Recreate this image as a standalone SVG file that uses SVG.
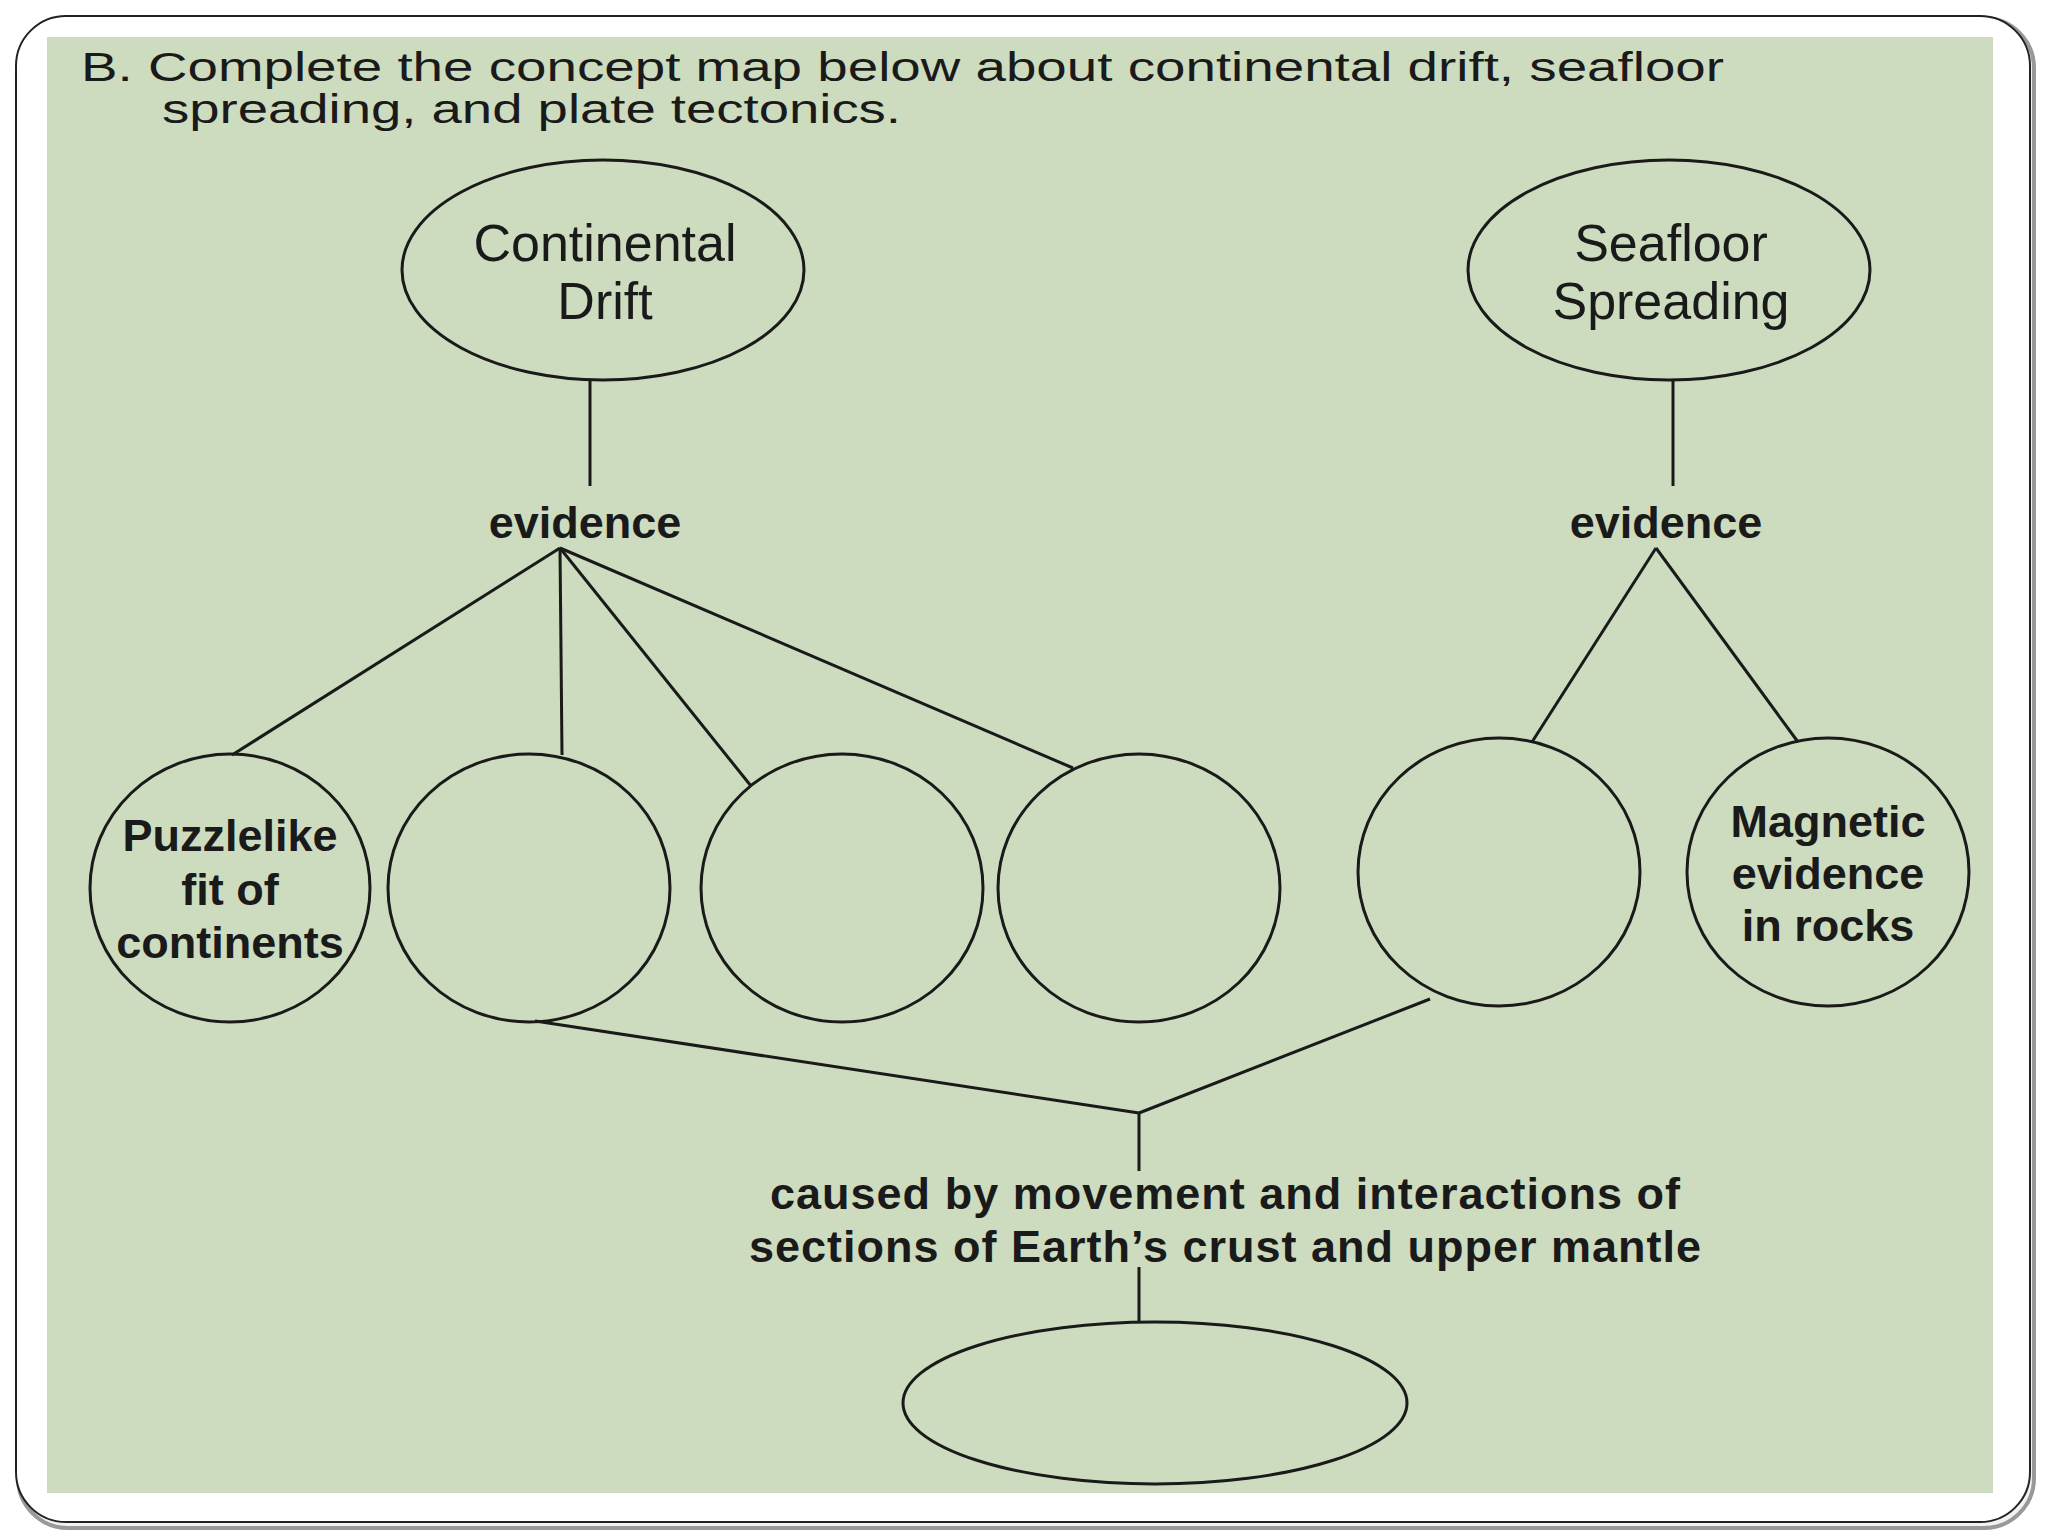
<svg xmlns="http://www.w3.org/2000/svg" width="2048" height="1536" viewBox="0 0 2048 1536">
<defs><style>
.n{fill:none;stroke:#1a1a1a;stroke-width:3}
.t{font-family:"Liberation Sans",Arial,sans-serif;fill:#1a1a1a;text-anchor:middle}
.b{font-weight:bold;font-size:45px}
.h{font-size:52px}
</style></defs>
<rect x="0" y="0" width="2048" height="1536" fill="#ffffff"/>
<rect x="18" y="18" width="2016" height="1510" rx="50" fill="#f2f2f2" stroke="#999" stroke-width="4"/>
<rect x="16" y="16" width="2014" height="1506" rx="50" fill="#ffffff" stroke="#222" stroke-width="2"/>
<rect x="47" y="37" width="1946" height="1456" fill="#cddcbf"/>
<g id="title" font-family="Liberation Sans,Arial,sans-serif" font-size="40" fill="#1a1a1a">
<text x="81" y="81" textLength="1643" lengthAdjust="spacingAndGlyphs">B. Complete the concept map below about continental drift, seafloor</text>
<text x="162" y="123" textLength="739" lengthAdjust="spacingAndGlyphs">spreading, and plate tectonics.</text>
</g>
<g id="connectors" class="n">
<line x1="590" y1="381" x2="590" y2="486"/>
<line x1="1673" y1="381" x2="1673" y2="486"/>
<line x1="560" y1="548" x2="232" y2="755"/>
<line x1="560" y1="548" x2="562" y2="755"/>
<line x1="560" y1="548" x2="751" y2="786"/>
<line x1="560" y1="548" x2="1073" y2="768"/>
<line x1="1656" y1="548" x2="1532" y2="742"/>
<line x1="1656" y1="548" x2="1798" y2="742"/>
<line x1="535" y1="1021" x2="1139" y2="1113"/>
<line x1="1430" y1="999" x2="1139" y2="1113"/>
<line x1="1139" y1="1113" x2="1139" y2="1171"/>
<line x1="1139" y1="1267" x2="1139" y2="1322"/>
</g>
<g id="continental-drift"><ellipse class="n" cx="603" cy="270" rx="201" ry="110"/>
<text class="t h" x="605" y="261">Continental</text><text class="t h" x="605" y="319">Drift</text></g>
<g id="seafloor-spreading"><ellipse class="n" cx="1669" cy="270" rx="201" ry="110"/>
<text class="t h" x="1671" y="261">Seafloor</text><text class="t h" x="1671" y="319">Spreading</text></g>
<g id="evidence-left"><text class="t b" x="585" y="538">evidence</text></g>
<g id="evidence-right"><text class="t b" x="1666" y="538">evidence</text></g>
<g id="puzzle"><ellipse class="n" cx="230" cy="888" rx="140" ry="134"/>
<text class="t b" x="230" y="851">Puzzlelike</text><text class="t b" x="230" y="905">fit of</text><text class="t b" x="230" y="958">continents</text></g>
<g id="blank1"><ellipse class="n" cx="529" cy="888" rx="141" ry="134"/></g>
<g id="blank2"><ellipse class="n" cx="842" cy="888" rx="141" ry="134"/></g>
<g id="blank3"><ellipse class="n" cx="1139" cy="888" rx="141" ry="134"/></g>
<g id="blank4"><ellipse class="n" cx="1499" cy="872" rx="141" ry="134"/></g>
<g id="magnetic"><ellipse class="n" cx="1828" cy="872" rx="141" ry="134"/>
<text class="t b" x="1828" y="837">Magnetic</text><text class="t b" x="1828" y="889">evidence</text><text class="t b" x="1828" y="941">in rocks</text></g>
<g id="caused"><text class="t b" x="1225" y="1209" textLength="910" lengthAdjust="spacing">caused by movement and interactions of</text>
<text class="t b" x="1225" y="1262" textLength="952" lengthAdjust="spacing">sections of Earth’s crust and upper mantle</text></g>
<g id="blank-bottom"><ellipse class="n" cx="1155" cy="1403" rx="252" ry="81"/></g>
</svg>
